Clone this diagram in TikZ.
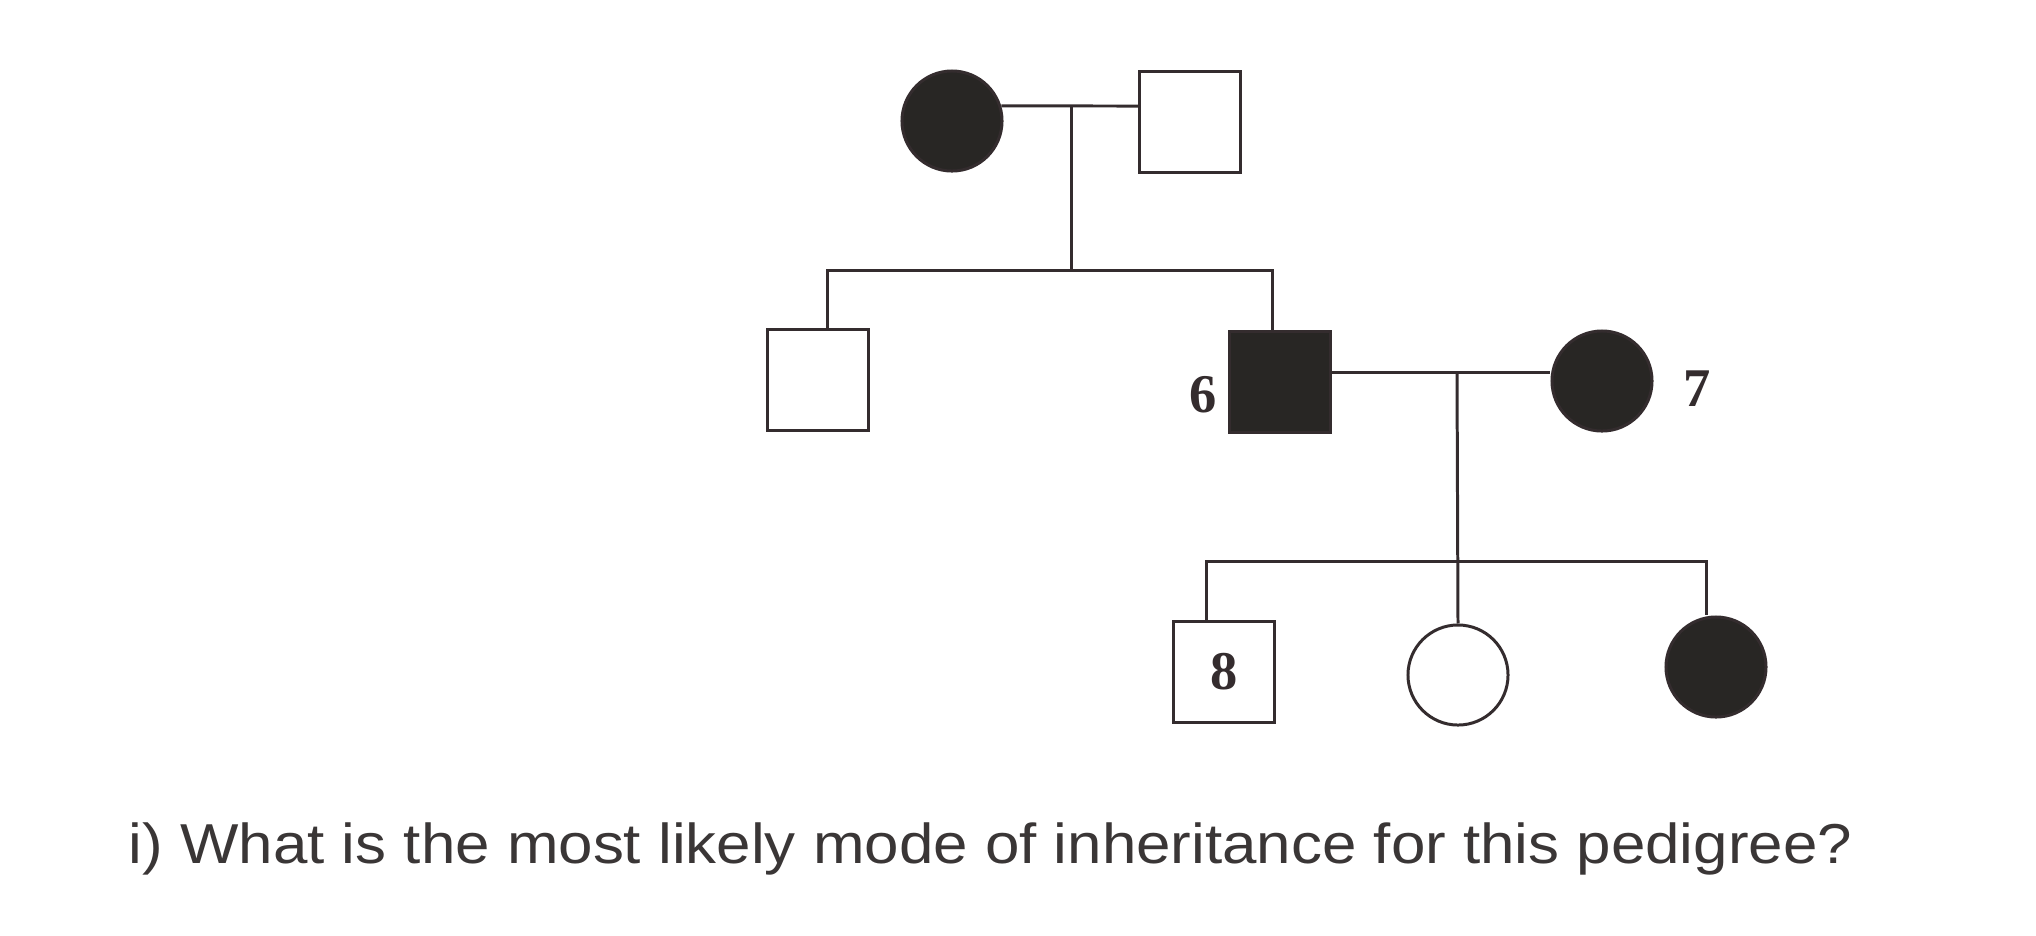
\documentclass[tikz,border=0pt]{standalone}
\usepackage{xcolor}
\usepackage{fontspec}
\usepackage{tikz}
\setmainfont{Liberation Sans}
\newfontfamily\digitfont{Liberation Serif}
\definecolor{ink}{RGB}{52,44,46}
\definecolor{shade}{RGB}{40,38,36}
\definecolor{words}{RGB}{58,54,54}

\begin{document}
\begin{tikzpicture}[x=0.01cm, y=-0.01cm,
  line/.style={line width=0.85pt, draw=ink},
  male/.style={draw=ink, line width=0.85pt, rectangle, minimum size=1cm, inner sep=0pt},
  female/.style={draw=ink, line width=0.85pt, circle, minimum size=1cm, inner sep=0pt},
  affected/.style={fill=shade},
  idx/.style={font=\digitfont\bfseries\fontsize{15.5}{18}\selectfont, text=ink, inner sep=0pt}]
\useasboundingbox (0,0) rectangle (2036,935);
% first generation
\node[female, affected] (gma) at (952,121) {};
\node[male] (gpa) at (1190,122) {};
\coordinate (mate1) at (1071,106);
\draw[line] (gma.17) -- (gpa.west |- mate1);
% second generation
\node[male] (uncle) at (818,380) {};
\node[male, affected] (dad) at (1280,382) {};
\node[female, affected] (mum) at (1602,381) {};
\node[idx] (six) at (1203,395) {6};
\node[idx] (seven) at (1697,389) {7};
\coordinate (sibl1) at (827,270);
\coordinate (sibr1) at (1272,270);
\draw[line] (mate1) -- (mate1 |- sibl1);
\draw[line] (sibl1 |- uncle.north) -- (sibl1) -- (sibr1) -- (sibr1 |- dad.north);
\coordinate (mate2) at (1457,372);
\draw[line] (dad.east |- mate2) -- (mum.west |- mate2);
% third generation
\node[male, idx] (son) at (1224,672) {8};
\node[female] (girl) at (1458,675) {};
\node[female, affected] (sis) at (1716,667) {};
\coordinate (sibl2) at (1206,561);
\coordinate (sibr2) at (1706,561);
\draw[line] (mate2) -- (girl.north);
\draw[line] (sibl2 |- son.north) -- (sibl2) -- (sibr2) -- (sibr2 |- sis.north);
% question
\node[anchor=base west, inner sep=0pt, text=words, xscale=1.1, font=\fontsize{16}{19}\selectfont] (ques) at (128,863)
  {i) What is the most likely mode of inheritance for this pedigree?};
\end{tikzpicture}
\end{document}
